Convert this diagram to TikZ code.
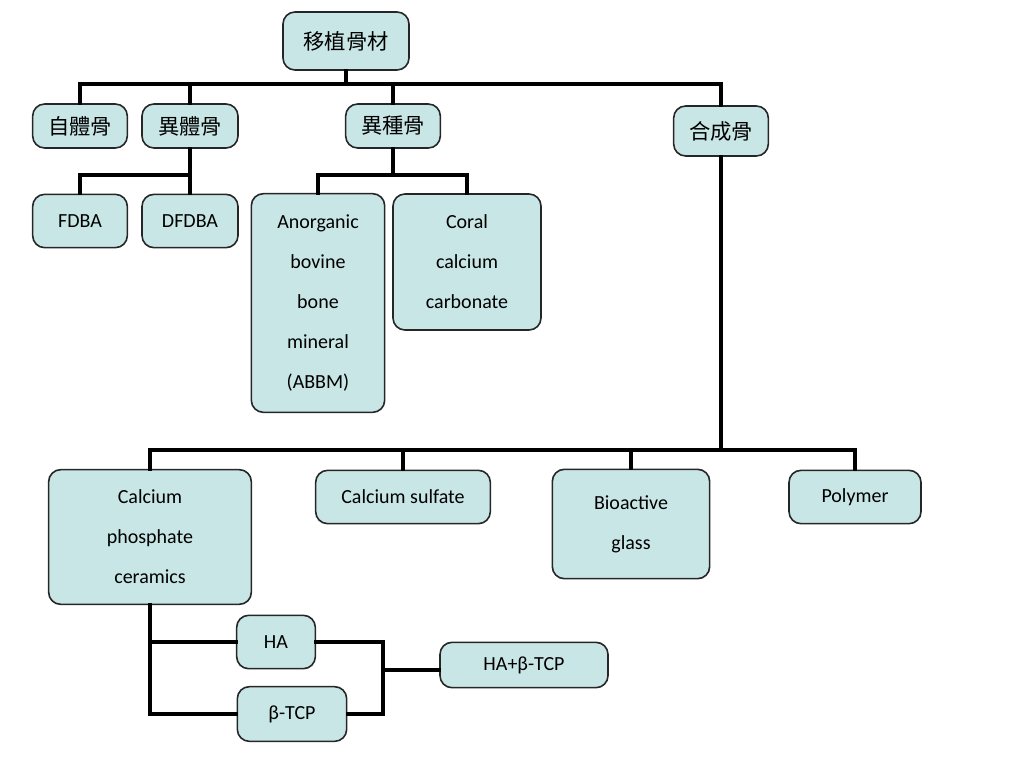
\documentclass[tikz,border=0pt]{standalone}
\usepackage{fontspec}
\setmainfont{Carlito}
\newfontfamily\cjk{Noto Sans CJK TC}
\usetikzlibrary{positioning}

\definecolor{boxfill}{HTML}{C9E6E6}
\tikzset{
	box/.style={draw=black!85, line width=1.2pt, fill=boxfill, rounded corners=9pt,
		inner sep=0pt, align=center, font=\fontsize{15}{30}\selectfont},
	cbox/.style={box, font=\cjk\fontsize{16}{20}\selectfont},
	link/.style={line width=2.6pt, line cap=rect}
}

\begin{document}
\begin{tikzpicture}[x=0.75pt,y=-0.75pt]
	\useasboundingbox (0,0) rectangle (1024,767);

	% first level
	\node[cbox, minimum width=94.5pt, minimum height=43.5pt] (graft) at (346,41) {移植骨材};
	\node[cbox, minimum width=71pt, minimum height=33pt] (auto) at (80,126) {自體骨};
	\node[cbox, minimum width=72pt, minimum height=33pt] (allo) at (190,126) {異體骨};
	\node[cbox, minimum width=71pt, minimum height=33pt] (xeno) at (393,126) {異種骨};
	\node[cbox, minimum width=71pt, minimum height=37.5pt] (synth) at (721,131) {合成骨};

	% second level
	\node[box, minimum width=71pt, minimum height=40pt] (fdba) at (80,221) {FDBA};
	\node[box, minimum width=72pt, minimum height=40pt] (dfdba) at (190,221) {DFDBA};
	\node[box, minimum width=100pt, minimum height=164pt] (abbm) at (318,303) {Anorganic\\bovine\\bone\\mineral\\(ABBM)};
	\node[box, minimum width=111pt, minimum height=102pt] (coral) at (467,262) {Coral\\calcium\\carbonate};

	% synthetic
	\node[box, minimum width=152pt, minimum height=101pt] (cpc) at (150,537) {Calcium\\phosphate\\ceramics};
	\node[box, minimum width=131pt, minimum height=40pt] (cs) at (403,497) {Calcium sulfate};
	\node[box, minimum width=118pt, minimum height=82pt] (bg) at (631,524) {Bioactive\\glass};
	\node[box, minimum width=99pt, minimum height=40pt] (poly) at (855,497) {Polymer};
	\node[box, minimum width=59pt, minimum height=40pt] (ha) at (276,642) {HA};
	\node[box, minimum width=82pt, minimum height=41pt] (tcp) at (292,714) {β-TCP};
	\node[box, minimum width=126pt, minimum height=34pt] (mix) at (524,665) {HA+β-TCP};

	% buses
	\coordinate (b1) at (346,84);
	\coordinate (b2) at (190,175);
	\coordinate (b3) at (393,175);
	\coordinate (b4) at (721,450);
	\coordinate (b5) at (383,670);

	\draw[link] (graft) -- (b1);
	\draw[link] (auto.north) |- (b1) -| (synth.north);
	\draw[link] (allo.north) -- (allo.north |- b1);
	\draw[link] (xeno.north) -- (xeno.north |- b1);

	\draw[link] (allo.south) -- (dfdba.north);
	\draw[link] (fdba.north) |- (b2);
	\draw[link] (xeno.south) -- (b3);
	\draw[link] (abbm.north) |- (b3) -| (coral.north);

	\draw[link] (synth.south) -- (b4);
	\draw[link] (cpc.north) |- (b4) -| (poly.north);
	\draw[link] (cs.north) -- (cs.north |- b4);
	\draw[link] (bg.north) -- (bg.north |- b4);

	\draw[link] (cpc.south) |- (tcp.west);
	\draw[link] (cpc.south |- ha.west) -- (ha.west);
	\draw[link] (ha.east) -| (b5) |- (tcp.east);
	\draw[link] (b5) -- (b5 -| mix.west);
\end{tikzpicture}
\end{document}
